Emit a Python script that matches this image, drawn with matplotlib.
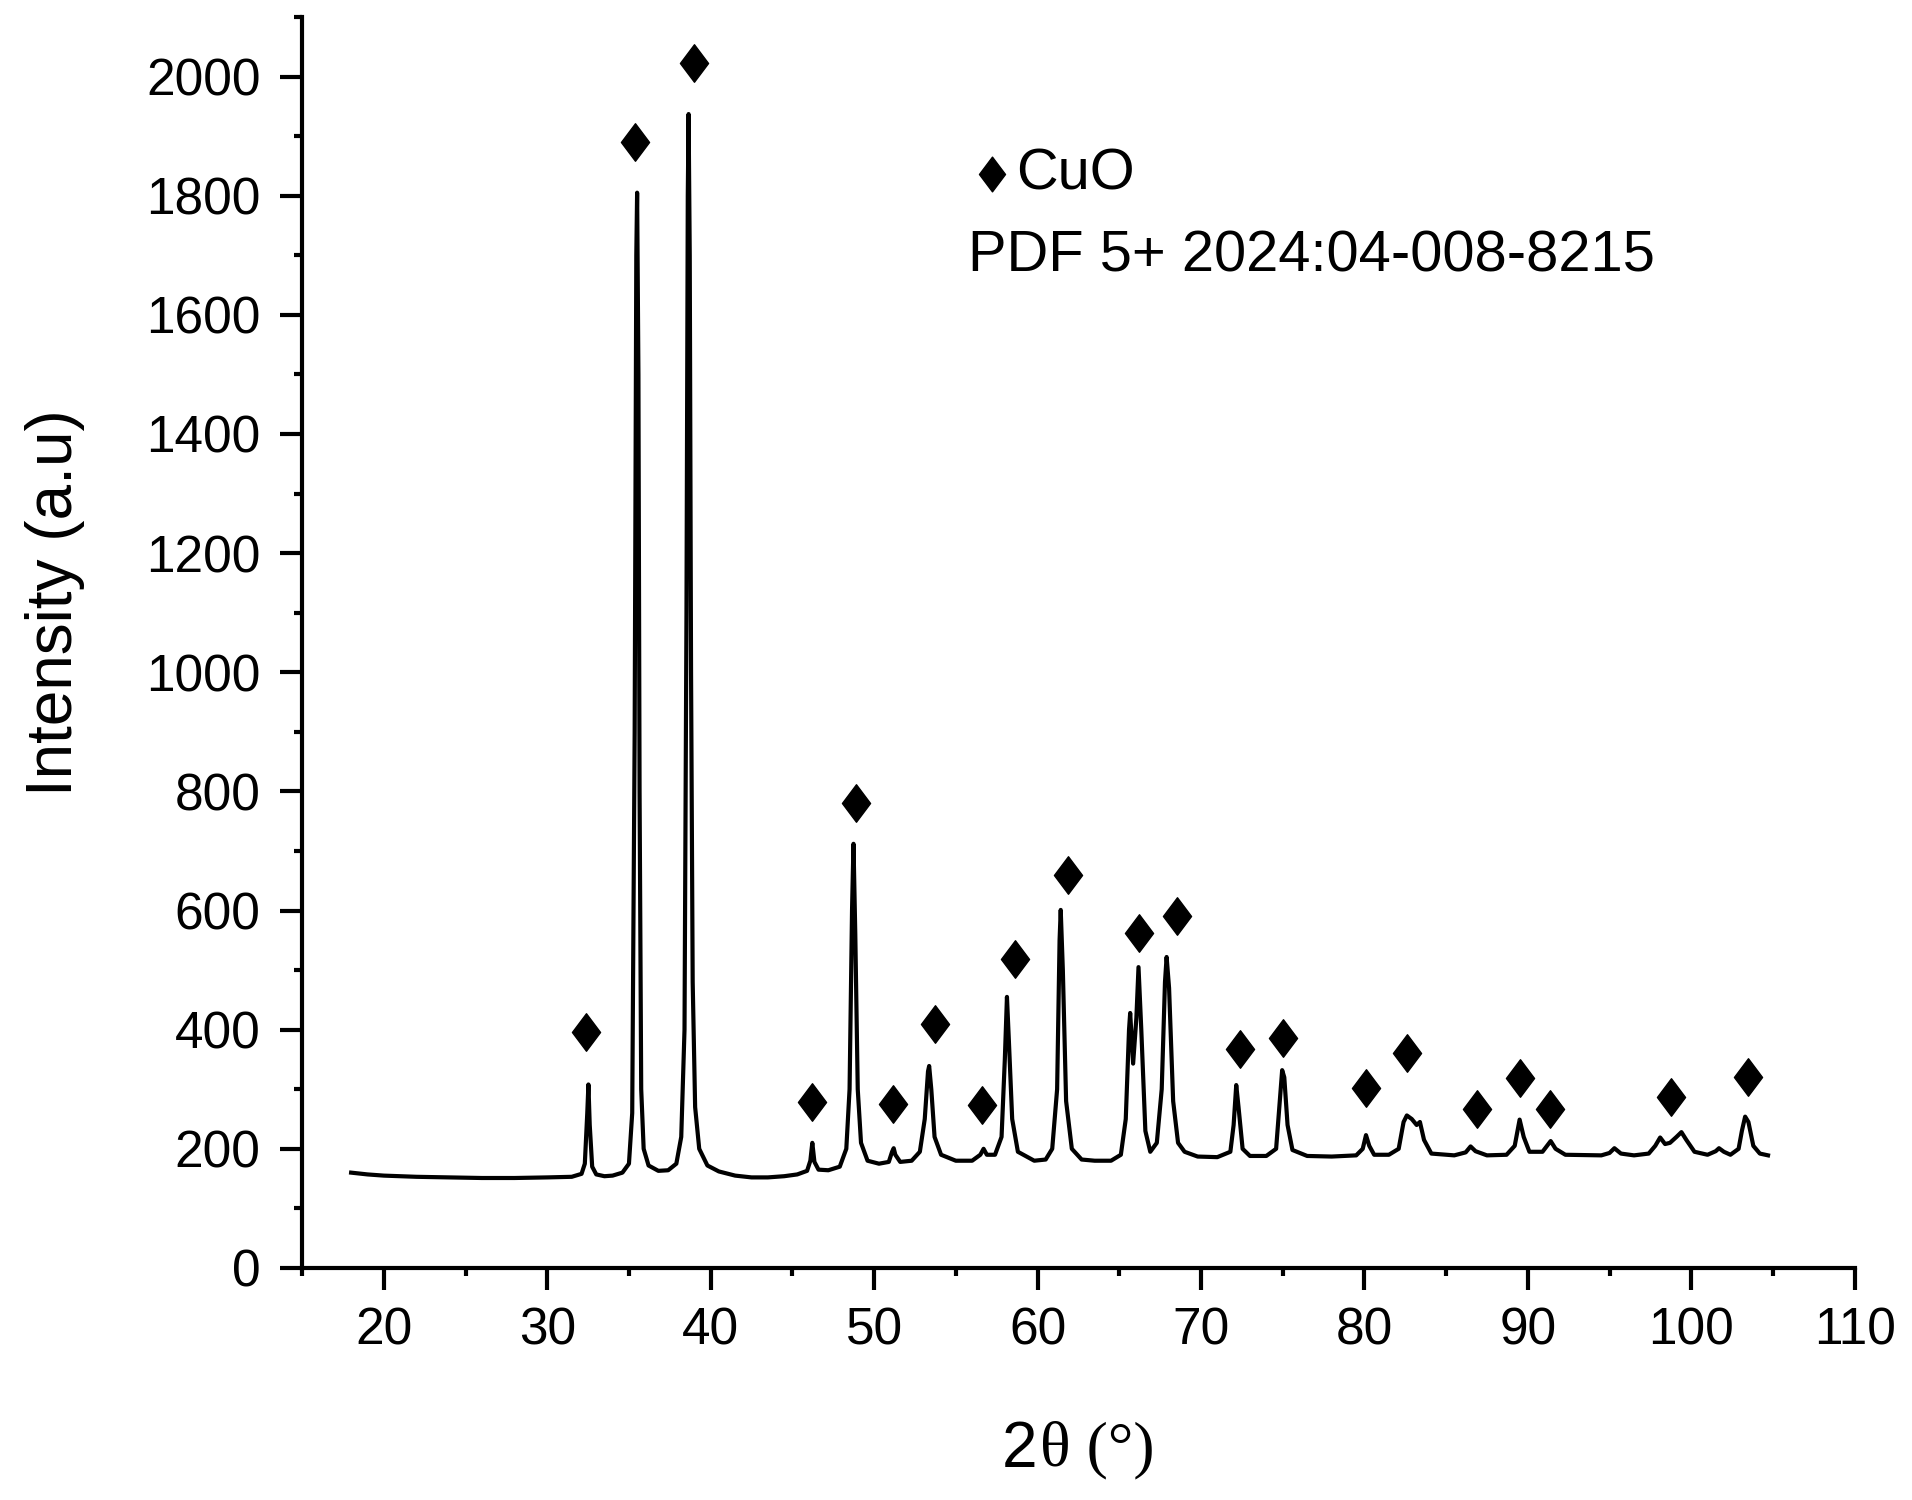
import matplotlib
matplotlib.use("Agg")
import matplotlib.pyplot as plt
from matplotlib.path import Path
from matplotlib.ticker import MultipleLocator

# traced XRD pattern (2theta, intensity)
two_theta = [18.0, 19.0, 20.0, 22.0, 24.0, 26.0, 28.0, 30.0, 31.5, 32.1, 32.3, 32.45, 32.52, 32.6, 32.75,
             33.0, 33.5, 34.0, 34.6, 35.0, 35.2, 35.35, 35.45, 35.5, 35.58, 35.65, 35.75, 35.9, 36.2,
             36.8, 37.4, 37.9, 38.2, 38.4, 38.52, 38.6, 38.65, 38.72, 38.8, 38.9, 39.05, 39.3, 39.8,
             40.5, 41.5, 42.5, 43.5, 44.5, 45.3, 45.9, 46.1, 46.22, 46.35, 46.6, 47.2, 47.9, 48.3,
             48.5, 48.65, 48.74, 48.85, 49.0, 49.2, 49.6, 50.3, 50.9, 51.1, 51.2, 51.3, 51.6, 52.3,
             52.8, 53.1, 53.3, 53.37, 53.5, 53.7, 54.1, 55.0, 56.0, 56.5, 56.7, 56.9, 57.4, 57.8,
             58.0, 58.13, 58.25, 58.45, 58.8, 59.8, 60.5, 60.9, 61.2, 61.35, 61.42, 61.55, 61.75,
             62.1, 62.7, 63.5, 64.5, 65.1, 65.4, 65.6, 65.67, 65.85, 66.05, 66.18, 66.35, 66.6,
             66.9, 67.3, 67.6, 67.8, 67.9, 68.05, 68.3, 68.6, 69.0, 69.8, 71.0, 71.8, 72.0, 72.16,
             72.3, 72.55, 73.0, 74.0, 74.6, 74.85, 74.97, 75.1, 75.3, 75.6, 76.5, 78.0, 79.5, 79.9,
             80.1, 80.3, 80.6, 81.5, 82.1, 82.4, 82.6, 82.9, 83.2, 83.4, 83.65, 84.1, 85.5, 86.2,
             86.5, 86.8, 87.5, 88.7, 89.2, 89.5, 89.75, 90.1, 90.9, 91.4, 91.7, 92.3, 94.5, 95.0,
             95.3, 95.7, 96.5, 97.4, 97.8, 98.1, 98.4, 98.7, 99.1, 99.4, 99.7, 100.2, 101.0, 101.5,
             101.7, 102.0, 102.4, 102.9, 103.1, 103.3, 103.5, 103.8, 104.2, 104.7]
intensity = [160, 157, 155, 153, 152, 151, 151, 152, 153, 158, 175, 260, 308, 240, 170,
             157, 154, 155, 160, 175, 260, 900, 1700, 1805, 1500, 800, 300, 200, 172,
             163, 164, 175, 220, 400, 1100, 1800, 1937, 1700, 1000, 480, 270, 200, 172,
             162, 155, 152, 152, 154, 157, 163, 180, 210, 178, 165, 164, 170, 200,
             300, 600, 712, 560, 300, 210, 180, 175, 178, 195, 201, 190, 178, 180,
             195, 250, 330, 339, 300, 220, 190, 180, 180, 190, 200, 190, 190, 220,
             350, 455, 380, 250, 195, 180, 182, 200, 300, 550, 601, 500, 280,
             200, 182, 180, 180, 190, 250, 400, 428, 343, 420, 505, 400, 230,
             195, 210, 300, 480, 522, 470, 280, 210, 195, 187, 186, 195, 240, 307,
             270, 200, 188, 188, 200, 290, 332, 320, 240, 198, 188, 187, 189, 200,
             223, 205, 190, 190, 200, 245, 256, 250, 240, 245, 215, 192, 189, 194,
             204, 196, 189, 190, 205, 249, 220, 195, 195, 213, 200, 190, 189, 193,
             201, 192, 189, 192, 205, 219, 208, 210, 220, 228, 215, 195, 190, 196,
             201, 195, 190, 200, 230, 254, 245, 205, 192, 189]

# CuO reflection markers
marker_x = [32.4, 35.35, 38.97, 46.18, 48.9, 51.18, 53.7, 56.58, 58.62, 61.88, 66.2, 68.52,
            72.4, 75.05, 80.12, 82.6, 86.9, 89.55, 91.35, 98.75, 103.5]
marker_y = [396, 1890, 2022, 279, 780, 275, 410, 274, 519, 660, 562, 590,
            368, 386, 302, 361, 266, 319, 266, 287, 321]

plt.rcParams['font.family'] = ['Liberation Sans', 'DejaVu Sans']

diamond = Path([(0, 1), (0.75, 0), (0, -1), (-0.75, 0), (0, 1)],
               [Path.MOVETO, Path.LINETO, Path.LINETO, Path.LINETO, Path.CLOSEPOLY])

fig = plt.figure(figsize=(19.12, 15), dpi=100)
ax = fig.add_axes([0.158, 0.1547, 0.812, 0.834])

ax.plot(two_theta, intensity, color='black', lw=3)
ax.plot(marker_x, marker_y, ls='none', marker=diamond, ms=27, color='black')

ax.set_xlim(15, 110)
ax.set_ylim(0, 2100)
ax.xaxis.set_major_locator(MultipleLocator(10))
ax.xaxis.set_minor_locator(MultipleLocator(5))
ax.yaxis.set_major_locator(MultipleLocator(200))
ax.yaxis.set_minor_locator(MultipleLocator(100))
ax.set_xticks(range(20, 111, 10))

for s in ['top', 'right']:
    ax.spines[s].set_visible(False)
for s in ['left', 'bottom']:
    ax.spines[s].set_linewidth(3)
ax.tick_params(which='major', direction='out', length=16, width=3, labelsize=37)
ax.tick_params(which='minor', direction='out', length=6, width=3)
ax.tick_params(axis='x', which='major', pad=12)
ax.tick_params(axis='y', which='major', pad=14)

# y label sits a little above the axes centre in the original
fig.text(55 / 1912, 1 - 603 / 1500, 'Intensity (a.u)', fontsize=46, rotation=90,
         ha='center', va='center')

# x label: sans "2" followed by serif theta and degree
fig.text(1037 / 1912, 1 - 1450 / 1500, '2', fontsize=46, ha='right', va='center')
fig.text(1040 / 1912, 1 - 1450 / 1500, 'θ (°)', fontsize=46, ha='left', va='center',
         family=['Liberation Serif', 'DejaVu Serif'])

# phase legend
ax.plot([992 / 1912], [1 - 174 / 1500], transform=fig.transFigure, marker=diamond,
        ms=25, color='black', ls='none', clip_on=False)
fig.text(1016 / 1912, 1 - 174 / 1500, 'CuO', fontsize=41.5, ha='left', va='center')
fig.text(968 / 1912, 1 - 256 / 1500, 'PDF 5+ 2024:04-008-8215', fontsize=41.7,
         ha='left', va='center')

fig.savefig('out.png', dpi=100, facecolor='white')
